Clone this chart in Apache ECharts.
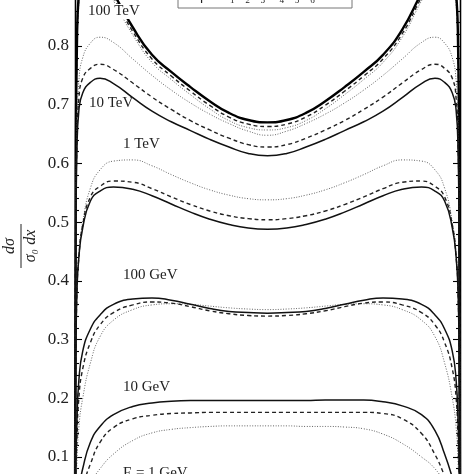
<!DOCTYPE html>
<html>
<head>
<meta charset="utf-8">
<script src="https://cdn.jsdelivr.net/npm/echarts@6/dist/echarts.min.js"></script>
<style>html,body{margin:0;padding:0;background:#fff;}#c{width:474px;height:474px;}</style>
</head>
<body>
<div id="c"></div>
<script>
// x grid (fraction x from 0 to 1)
const xs = [0, 0.002, 0.005, 0.01, 0.02, 0.04, 0.065, 0.1, 0.15, 0.2, 0.25, 0.3, 0.35, 0.4, 0.45, 0.5, 0.55, 0.6, 0.65, 0.7, 0.75, 0.8, 0.85, 0.9, 0.935, 0.96, 0.98, 0.99, 0.995, 0.998, 1];

// 100 TeV
const tev100Solid  = [0, 0.58, 0.80, 0.89, 0.93, 0.945, 0.93, 0.89, 0.832, 0.785, 0.756, 0.730, 0.706, 0.686, 0.674, 0.670, 0.674, 0.686, 0.706, 0.730, 0.756, 0.785, 0.828, 0.89, 0.93, 0.945, 0.93, 0.89, 0.80, 0.58, 0];
const tev100Dashed = [0, 0.57, 0.79, 0.88, 0.922, 0.938, 0.923, 0.883, 0.825, 0.778, 0.749, 0.723, 0.699, 0.679, 0.667, 0.663, 0.667, 0.679, 0.699, 0.723, 0.749, 0.778, 0.821, 0.883, 0.923, 0.938, 0.922, 0.88, 0.79, 0.57, 0];
const tev100Dotted = [0, 0.56, 0.78, 0.87, 0.915, 0.932, 0.917, 0.877, 0.819, 0.772, 0.743, 0.717, 0.693, 0.673, 0.661, 0.657, 0.661, 0.673, 0.693, 0.717, 0.743, 0.772, 0.815, 0.877, 0.917, 0.932, 0.915, 0.87, 0.78, 0.56, 0];
// 10 TeV
const tev10Solid  = [0, 0.45, 0.62, 0.69, 0.72, 0.738, 0.745, 0.736, 0.712, 0.689, 0.671, 0.656, 0.641, 0.628, 0.617, 0.613, 0.617, 0.628, 0.641, 0.656, 0.671, 0.689, 0.712, 0.736, 0.745, 0.738, 0.72, 0.69, 0.62, 0.45, 0];
const tev10Dashed = [0, 0.46, 0.64, 0.71, 0.745, 0.762, 0.769, 0.76, 0.737, 0.713, 0.692, 0.673, 0.657, 0.643, 0.632, 0.628, 0.632, 0.643, 0.657, 0.673, 0.692, 0.713, 0.737, 0.76, 0.769, 0.762, 0.745, 0.71, 0.64, 0.46, 0];
const tev10Dotted = [0, 0.47, 0.66, 0.74, 0.78, 0.805, 0.815, 0.806, 0.778, 0.750, 0.725, 0.703, 0.684, 0.668, 0.655, 0.648, 0.655, 0.668, 0.684, 0.703, 0.725, 0.750, 0.778, 0.806, 0.815, 0.805, 0.78, 0.74, 0.66, 0.47, 0];
// 1 TeV
const tev1Solid  = [0, 0.25, 0.38, 0.44, 0.49, 0.536, 0.553, 0.56, 0.556, 0.545, 0.531, 0.517, 0.505, 0.496, 0.49, 0.488, 0.49, 0.496, 0.505, 0.517, 0.531, 0.545, 0.556, 0.56, 0.553, 0.536, 0.49, 0.44, 0.38, 0.25, 0];
const tev1Dashed = [0, 0.25, 0.38, 0.44, 0.495, 0.543, 0.561, 0.570, 0.568, 0.557, 0.543, 0.530, 0.519, 0.511, 0.506, 0.504, 0.506, 0.511, 0.519, 0.530, 0.543, 0.557, 0.568, 0.570, 0.561, 0.543, 0.495, 0.44, 0.38, 0.25, 0];
const tev1Dotted = [0, 0.25, 0.38, 0.445, 0.50, 0.558, 0.589, 0.604, 0.606, 0.596, 0.581, 0.567, 0.555, 0.546, 0.540, 0.538, 0.540, 0.546, 0.555, 0.567, 0.581, 0.596, 0.606, 0.604, 0.589, 0.558, 0.50, 0.445, 0.38, 0.25, 0];
// 100 GeV
const gev100Solid  = [0, 0.08, 0.16, 0.23, 0.28, 0.318, 0.342, 0.36, 0.369, 0.371, 0.367, 0.360, 0.353, 0.348, 0.346, 0.345, 0.346, 0.348, 0.353, 0.360, 0.367, 0.371, 0.369, 0.36, 0.342, 0.318, 0.28, 0.23, 0.16, 0.08, 0];
const gev100Dashed = [0, 0.06, 0.13, 0.20, 0.25, 0.295, 0.325, 0.346, 0.359, 0.364, 0.362, 0.356, 0.349, 0.344, 0.341, 0.340, 0.341, 0.344, 0.349, 0.356, 0.362, 0.364, 0.359, 0.346, 0.325, 0.295, 0.25, 0.20, 0.13, 0.06, 0];
const gev100Dotted = [0, 0.04, 0.09, 0.15, 0.20, 0.26, 0.305, 0.333, 0.351, 0.359, 0.361, 0.360, 0.357, 0.354, 0.352, 0.351, 0.352, 0.354, 0.357, 0.360, 0.361, 0.359, 0.351, 0.333, 0.305, 0.26, 0.20, 0.15, 0.09, 0.04, 0];
// 10 GeV
const gev10Solid  = [0, 0.01, 0.025, 0.045, 0.08, 0.125, 0.152, 0.172, 0.186, 0.192, 0.195, 0.196, 0.196, 0.196, 0.196, 0.196, 0.196, 0.196, 0.197, 0.197, 0.197, 0.194, 0.187, 0.172, 0.145, 0.105, 0.065, 0.04, 0.025, 0.01, 0];
const gev10Dashed = [0, 0.005, 0.015, 0.028, 0.05, 0.088, 0.125, 0.15, 0.165, 0.171, 0.174, 0.175, 0.176, 0.176, 0.176, 0.176, 0.176, 0.176, 0.176, 0.176, 0.176, 0.174, 0.165, 0.14, 0.104, 0.068, 0.035, 0.02, 0.012, 0.005, 0];
const gev10Dotted = [0, 0.003, 0.008, 0.015, 0.03, 0.055, 0.08, 0.105, 0.128, 0.141, 0.147, 0.15, 0.152, 0.153, 0.153, 0.153, 0.153, 0.152, 0.152, 0.151, 0.148, 0.139, 0.123, 0.10, 0.08, 0.055, 0.03, 0.015, 0.008, 0.003, 0];

// visible y range and ticks
const yMin = 0.071, yMax = 0.8784;
const yMajorTicks = [0.1, 0.2, 0.3, 0.4, 0.5, 0.6, 0.7, 0.8];
const yMinorTicks = [0.08, 0.12, 0.14, 0.16, 0.18, 0.22, 0.24, 0.26, 0.28, 0.32, 0.34, 0.36, 0.38, 0.42, 0.44, 0.46, 0.48, 0.52, 0.54, 0.56, 0.58, 0.62, 0.64, 0.66, 0.68, 0.72, 0.74, 0.76, 0.78, 0.82, 0.84, 0.86];
const curveLabels = ['100 TeV', '10 TeV', '1 TeV', '100 GeV', '10 GeV', 'E = 1 GeV'];

function pairs(ys) { return xs.map((x, i) => [x, ys[i]]); }

const styles = {
  solid:  { color: '#111', width: 1.5, type: 'solid' },
  thick:  { color: '#000', width: 2.4, type: 'solid' },
  dashed: { color: '#222', width: 1.4, type: [4, 3] },
  dotted: { color: '#666', width: 1.0, type: [1, 1.6] }
};
const seriesDefs = [
  [tev100Dotted, 'dotted'], [tev100Dashed, 'dashed'], [tev100Solid, 'thick'],
  [tev10Dotted, 'dotted'], [tev10Dashed, 'dashed'], [tev10Solid, 'solid'],
  [tev1Dotted, 'dotted'], [tev1Dashed, 'dashed'], [tev1Solid, 'solid'],
  [gev100Dotted, 'dotted'], [gev100Dashed, 'dashed'], [gev100Solid, 'solid'],
  [gev10Dotted, 'dotted'], [gev10Dashed, 'dashed'], [gev10Solid, 'solid']
];

const serif = '"Liberation Serif", "DejaVu Serif", serif';
const chart = echarts.init(document.getElementById('c'), null, { renderer: 'canvas' });

function yAxisDef(position, ticks, tickLen, withLabels) {
  return {
    type: 'value', min: yMin, max: yMax, position: position,
    splitLine: { show: false },
    axisLine: { show: true, onZero: false, lineStyle: { color: '#000', width: 1.3 } },
    axisTick: { show: true, inside: true, length: tickLen, customValues: ticks, lineStyle: { color: '#000', width: 1.1 } },
    axisLabel: withLabels
      ? { show: true, customValues: ticks, margin: 6, color: '#222', fontSize: 17, fontFamily: serif, formatter: v => v.toFixed(1) }
      : { show: false }
  };
}

const labelPos = [[87, 4], [89, 96], [123, 137], [123, 268], [123, 380], [123, 466]];

chart.setOption({
  animation: false,
  backgroundColor: '#fff',
  grid: { left: 75, right: 14, top: 0, bottom: 0, containLabel: false },
  xAxis: { type: 'value', min: 0, max: 1, show: false },
  yAxis: [
    yAxisDef('left', yMajorTicks, 7, true),
    yAxisDef('left', yMinorTicks, 4, false),
    yAxisDef('right', yMajorTicks, 7, false),
    yAxisDef('right', yMinorTicks, 4, false)
  ],
  series: seriesDefs.map(([ys, st]) => ({
    type: 'line', data: pairs(ys), showSymbol: false, smooth: 0.5,
    lineStyle: styles[st], silent: true, z: 2
  })),
  graphic: [
    ...curveLabels.map((t, i) => ({
      type: 'text', left: labelPos[i][0], top: labelPos[i][1], z: 100,
      style: i === 0
        ? { text: t, font: '15px ' + serif, fill: '#222', backgroundColor: '#fff', padding: [0, 1] }
        : { text: t, font: '15px ' + serif, fill: '#222' }
    })),
    { type: 'rect', z: 100, shape: { x: 178, y: -30, width: 174, height: 38 },
      style: { fill: '#fff', stroke: '#777', lineWidth: 1 } },
    { type: 'text', z: 101, left: 200, top: -11,
      style: { text: 'ρ = ε₁ ε₂ ε₃  ε₄ ε₅ ε₆', font: '15px ' + serif, fill: '#222' } },
    { type: 'group', x: 21, y: 246, rotation: Math.PI / 2, z: 100,
      children: [
        { type: 'text', z: 100, style: { text: 'dσ', x: 0, y: -3, align: 'center', verticalAlign: 'bottom', font: 'italic 16px ' + serif, fill: '#222' } },
        { type: 'line', z: 100, shape: { x1: -22, y1: 0, x2: 22, y2: 0 }, style: { stroke: '#222', lineWidth: 1 } },
        { type: 'text', z: 100, style: { text: 'σ₀ dx', x: 0, y: 2, align: 'center', verticalAlign: 'top', font: 'italic 16px ' + serif, fill: '#222' } }
      ]
    }
  ]
});
</script>
</body>
</html>
